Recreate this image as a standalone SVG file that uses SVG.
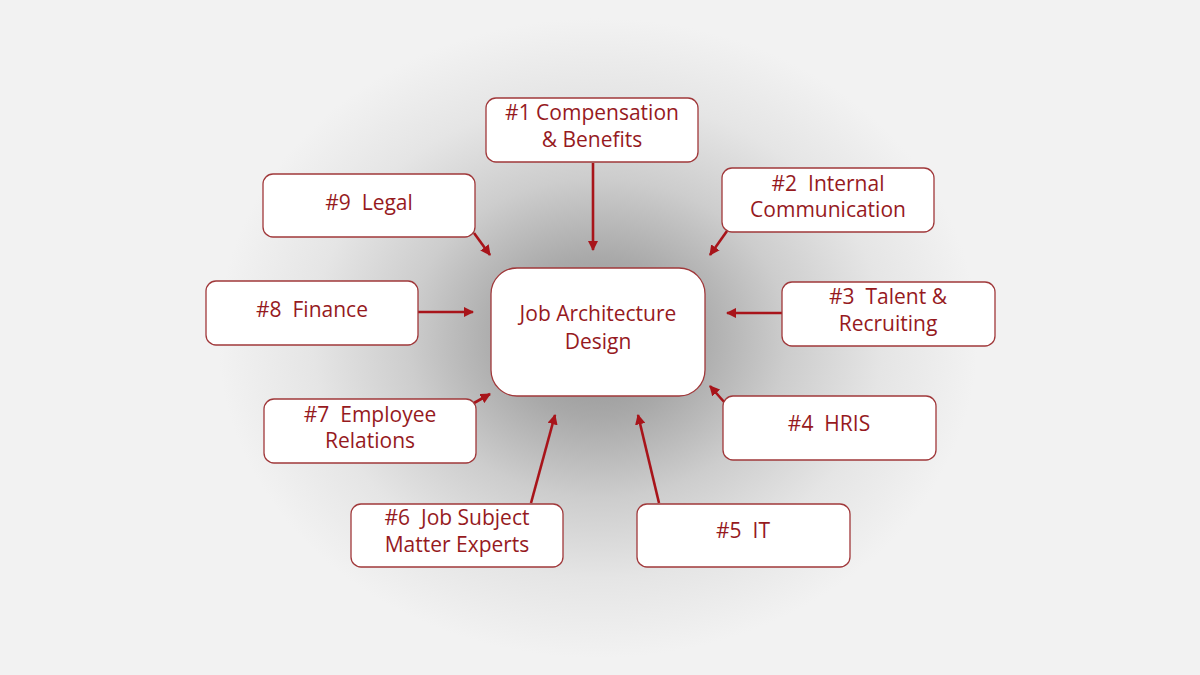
<svg xmlns="http://www.w3.org/2000/svg" width="1200" height="675" viewBox="0 0 1200 675">
<style>
.box{fill:#ffffff;stroke:#a0383a;stroke-width:1.3}
.t{font-family:"Open Sans",Lato,sans-serif;font-size:21px;fill:#961a1e;text-anchor:middle;white-space:pre;font-variant-ligatures:none}
.c{stroke:#a8141a;stroke-width:2.6;fill:none;marker-end:url(#ah)}
</style>
<defs>
<radialGradient id="bg" cx="0" cy="0" r="1" gradientUnits="userSpaceOnUse" gradientTransform="translate(598 338) scale(380 320)">
<stop offset="0" stop-color="#8e8e8e"/>
<stop offset="0.25" stop-color="#a9a9a9"/>
<stop offset="0.5" stop-color="#cdcdcd"/>
<stop offset="0.75" stop-color="#e5e5e5"/>
<stop offset="1" stop-color="#f2f2f2"/>
</radialGradient>
<marker id="ah" viewBox="0 0 10 10" refX="9" refY="5" markerWidth="4" markerHeight="4" orient="auto" markerUnits="strokeWidth">
<path d="M0,0 L10,5 L0,10 z" fill="#a8141a"/>
</marker>
</defs>
<rect width="1200" height="675" fill="#f2f2f2"/>
<rect width="1200" height="675" fill="url(#bg)"/>
<g id="connectors">
<line class="c" x1="593" y1="163" x2="593" y2="250"/>
<line class="c" x1="727" y1="231" x2="710" y2="255"/>
<line class="c" x1="782" y1="313" x2="727" y2="313"/>
<line class="c" x1="725" y1="403" x2="710" y2="386"/>
<line class="c" x1="659" y1="503" x2="638" y2="415"/>
<line class="c" x1="531" y1="503" x2="555" y2="415"/>
<line class="c" x1="474" y1="403" x2="490" y2="394"/>
<line class="c" x1="418" y1="312" x2="473" y2="312"/>
<line class="c" x1="474" y1="233" x2="490" y2="255"/>
</g>
<g id="center">
<rect class="box" x="491" y="268" width="214" height="128" rx="26"/>
<text class="t" x="598" y="321">Job Architecture</text>
<text class="t" x="598" y="349">Design</text>
</g>
<g id="n1">
<rect class="box" x="486" y="98" width="212" height="64" rx="10"/>
<text class="t" x="592" y="120">#1 Compensation</text>
<text class="t" x="592" y="147">&amp; Benefits</text>
</g>
<g id="n2">
<rect class="box" x="722" y="168" width="212" height="64" rx="10"/>
<text class="t" x="828" y="191" xml:space="preserve">#2  Internal</text>
<text class="t" x="828" y="217">Communication</text>
</g>
<g id="n3">
<rect class="box" x="782" y="282" width="213" height="64" rx="10"/>
<text class="t" x="888" y="304" xml:space="preserve">#3  Talent &amp;</text>
<text class="t" x="888" y="331">Recruiting</text>
</g>
<g id="n4">
<rect class="box" x="723" y="396" width="213" height="64" rx="10"/>
<text class="t" x="829" y="431" xml:space="preserve">#4  HRIS</text>
</g>
<g id="n5">
<rect class="box" x="637" y="504" width="213" height="63" rx="10"/>
<text class="t" x="743" y="538" xml:space="preserve">#5  IT</text>
</g>
<g id="n6">
<rect class="box" x="351" y="504" width="212" height="63" rx="10"/>
<text class="t" x="457" y="525" xml:space="preserve">#6  Job Subject</text>
<text class="t" x="457" y="552">Matter Experts</text>
</g>
<g id="n7">
<rect class="box" x="264" y="399" width="212" height="64" rx="10"/>
<text class="t" x="370" y="422" xml:space="preserve">#7  Employee</text>
<text class="t" x="370" y="448">Relations</text>
</g>
<g id="n8">
<rect class="box" x="206" y="281" width="212" height="64" rx="10"/>
<text class="t" x="312" y="317" xml:space="preserve">#8  Finance</text>
</g>
<g id="n9">
<rect class="box" x="263" y="174" width="212" height="63" rx="10"/>
<text class="t" x="369" y="210" xml:space="preserve">#9  Legal</text>
</g>
</svg>
